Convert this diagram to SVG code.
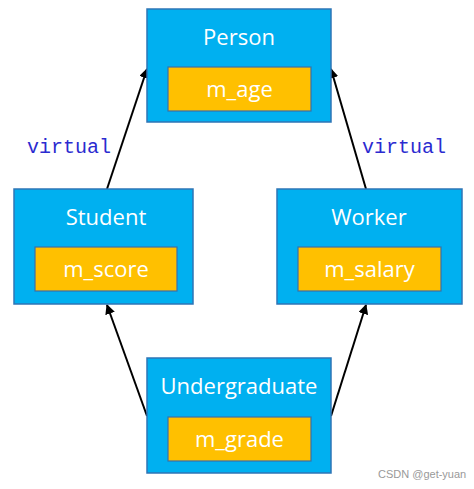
<svg xmlns="http://www.w3.org/2000/svg" width="474" height="489" viewBox="0 0 474 489">
<style>
.box{fill:#00b0f0;stroke:#2e75b6;stroke-width:1.5}
.inner{fill:#ffc000;stroke:#3a6fa8;stroke-width:1.2}
.t{font-family:"Open Sans","Liberation Sans",sans-serif;font-size:22px;fill:#fff;text-anchor:middle}
.v{font-family:"Liberation Mono",monospace;font-size:20px;fill:#2b2bd0}
.edge{stroke:#000;stroke-width:2;fill:none;marker-end:url(#ah)}
</style>
<defs>
<marker id="ah" viewBox="0 0 10 10" refX="9" refY="5" markerWidth="10" markerHeight="10" markerUnits="userSpaceOnUse" orient="auto">
<path d="M0,0 L10,5 L0,10 z" fill="#000"/>
</marker>
</defs>
<rect width="474" height="489" fill="#fff"/>
<g id="connectors">
<line class="edge" x1="107" y1="189" x2="147" y2="69"/>
<line class="edge" x1="366" y1="189" x2="331" y2="69"/>
<line class="edge" x1="147" y1="416" x2="107" y2="305"/>
<line class="edge" x1="331" y1="416" x2="366" y2="305"/>
</g>
<g id="person">
<rect class="box" x="147" y="9" width="184" height="113"/>
<text class="t" x="239" y="45">Person</text>
<rect class="inner" x="168" y="67" width="143" height="44"/>
<text class="t" x="239.5" y="97">m_age</text>
</g>
<g id="student">
<rect class="box" x="14" y="189" width="179" height="115"/>
<text class="t" x="106" y="225">Student</text>
<rect class="inner" x="35" y="247" width="142" height="44"/>
<text class="t" x="106" y="277">m_score</text>
</g>
<g id="worker">
<rect class="box" x="277" y="189" width="185" height="115"/>
<text class="t" x="369" y="225">Worker</text>
<rect class="inner" x="298" y="247" width="143" height="44"/>
<text class="t" x="369.5" y="277">m_salary</text>
</g>
<g id="undergraduate">
<rect class="box" x="147" y="358" width="184" height="115"/>
<text class="t" x="239" y="394">Undergraduate</text>
<rect class="inner" x="168" y="417" width="143" height="44"/>
<text class="t" x="239.5" y="447">m_grade</text>
</g>
<g id="labels">
<text class="v" x="27" y="153">virtual</text>
<text class="v" x="362" y="153">virtual</text>
<text x="378" y="478" font-family="Liberation Sans,sans-serif" font-size="11" fill="#999">CSDN @get-yuan</text>
</g>
</svg>
